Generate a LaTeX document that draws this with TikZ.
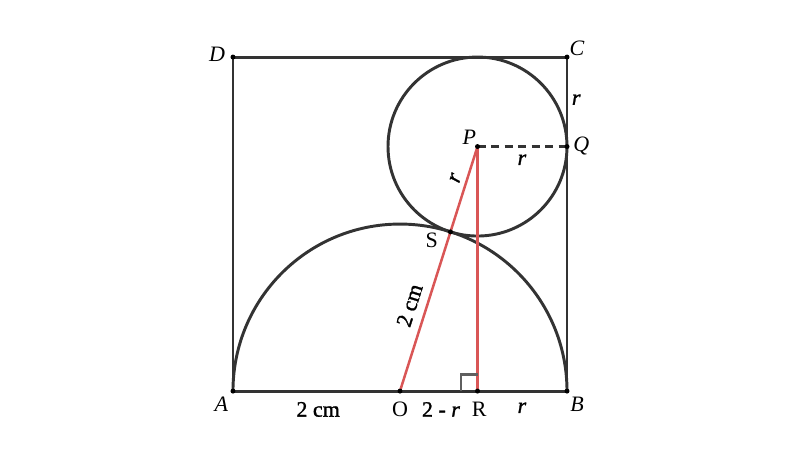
\documentclass[tikz,border=0pt]{standalone}
\usepackage{fontspec}
\setmainfont{Liberation Serif}
\newfontfamily\semib[FakeBold=1.2]{Liberation Serif}
\usetikzlibrary{calc}
\definecolor{lineblack}{RGB}{51,51,51}
\definecolor{segred}{RGB}{217,86,86}
\definecolor{markgray}{RGB}{95,95,95}
\begin{document}
\begin{tikzpicture}[
  blackline/.style={draw=lineblack,line width=1pt},
  redline/.style={draw=segred,line width=0.85pt},
  dotmark/.style={fill=black},
  lbl/.style={font=\fontsize{7.5}{9}\selectfont,inner sep=1pt},
  meas/.style={font=\fontsize{7.5}{9}\selectfont\semib,inner sep=1pt},
]
\pgfmathsetmacro{\rr}{8-sqrt(48)}
\pgfmathsetmacro{\pc}{4-\rr}
\useasboundingbox (-2.790,-0.7066) rectangle (6.790,4.683);
\coordinate (A) at (0,0);
\coordinate (B) at (4,0);
\coordinate (C) at (4,4);
\coordinate (D) at (0,4);
\coordinate (O) at (2,0);
\coordinate (P) at (\pc,\pc);
\coordinate (Q) at (4,\pc);
\coordinate (R) at (\pc,0);
\coordinate (S) at ($(O)!2cm!(P)$);
% square
\draw[blackline] (A) -- (B) -- (C) -- (D) -- cycle;
% semicircle
\draw[blackline] (B) arc[start angle=0,end angle=180,radius=2];
% small circle
\draw[blackline] (P) circle[radius=\rr];
% dashed radius
\draw[blackline,dash pattern=on 2.8pt off 1.8pt] (P) -- (Q);
% red segments
\draw[redline] (O) -- (P);
\draw[redline] (P) -- (R);
% right angle mark
\draw[draw=markgray,line width=0.8pt] ($(R)+(-0.2,0)$) -- ++(0,0.2) -- ++(0.2,0);
% dots
\foreach \p in {A,B,C,D,O,P,Q,R,S} \fill[dotmark] (\p) circle[radius=0.85pt];
% labels
\node[lbl] (lA) at (-0.14,-0.16) {\itshape A};
\node[lbl] (lB) at (4.12,-0.16) {\itshape B};
\node[lbl] (lC) at (4.12,4.11) {\itshape C};
\node[lbl] (lD) at (-0.19,4.03) {\itshape D};
\node[lbl] (lP) at (2.83,3.04) {\itshape P};
\node[lbl] (lQ) at (4.17,2.93) {\itshape Q};
\node[lbl] (lS) at (2.38,1.80) {S};
\node[lbl] (lO) at (2,-0.22) {O};
\node[lbl] (lR) at (2.95,-0.22) {R};
\node[meas] (l2r) at (2.49,-0.22) {2 - \itshape r};
\node[meas] (lrb) at (3.46,-0.20) {\itshape r};
\node[meas] (l2cm) at (1.02,-0.22) {2 cm};
\node[meas] (lrc) at (4.11,3.49) {\itshape r};
\node[meas] (lrq) at (3.46,2.77) {\itshape r};
\path (O) -- (P) node[meas,pos=0.857,sloped,above=1pt] (lrs) {\itshape r};
\path (O) -- (P) node[meas,pos=0.33,sloped,above=2pt] (l2cms) {2 cm};
\end{tikzpicture}
\end{document}
